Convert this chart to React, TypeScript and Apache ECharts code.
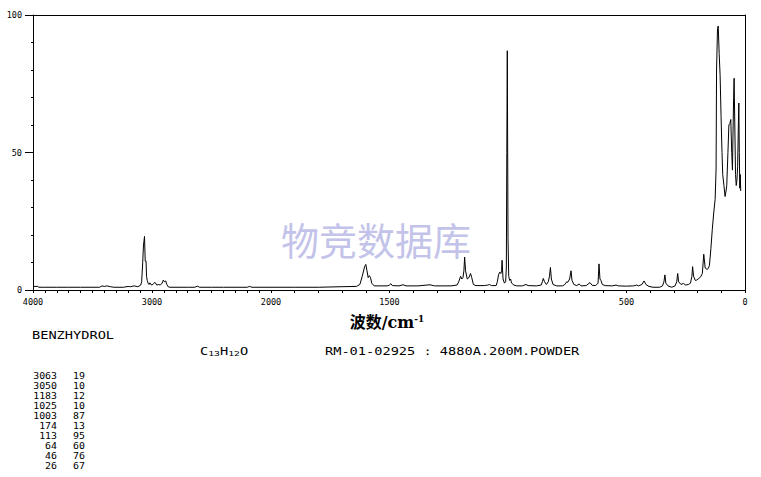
import React, { useEffect, useRef } from "react";
import * as echarts from "echarts";

// Raman spectrum of benzhydrol: wavenumber (cm-1) and relative intensity
const wavenumbers = [
  4000, 3960, 3950, 3900, 3800, 3700, 3600, 3440, 3420, 3400, 3380, 3350, 3320, 3240, 3200, 3180, 3150, 3120,
  3100, 3095, 3087, 3078, 3072, 3063, 3057, 3050, 3046, 3040, 3033, 3025, 3017, 3010, 3000, 2990, 2975, 2960,
  2944, 2930, 2915, 2905, 2895, 2885, 2875, 2865, 2850, 2700, 2640, 2620, 2600, 2500, 2400, 2200, 2180, 2160,
  2000, 1900, 1800, 1700, 1640, 1625, 1615, 1605, 1600, 1595, 1590, 1585, 1580, 1575, 1565, 1540, 1510, 1500,
  1494, 1488, 1460, 1443, 1430, 1380, 1329, 1310, 1240, 1215, 1208, 1200, 1195, 1190, 1186, 1183, 1179, 1172,
  1165, 1158, 1153, 1146, 1135, 1100, 1085, 1078, 1070, 1050, 1045, 1040, 1035, 1030, 1027, 1025, 1021, 1015,
  1010, 1007, 1005, 1003, 1000, 997, 993, 989, 985, 975, 963, 940, 924, 915, 880, 860, 855, 851, 846, 838, 830,
  825, 821, 817, 810, 795, 770, 760, 752, 748, 740, 734, 730, 722, 710, 700, 692, 670, 654, 645, 630, 620, 616,
  612, 608, 602, 590, 560, 544, 535, 500, 470, 457, 450, 435, 426, 418, 405, 388, 360, 348, 342, 338, 334, 325,
  309, 295, 288, 284, 280, 270, 260, 250, 239, 230, 224, 221, 217, 210, 204, 195, 187, 180, 174, 168, 160, 155,
  150, 144, 138, 132, 126, 122, 120, 116, 113, 109, 105, 101, 97, 94, 89, 84, 80, 77, 72, 68, 64, 60, 56, 53, 50,
  48, 46, 43, 40, 37, 34, 31, 28, 26, 24, 22, 20, 18,
];
const intensities = [
  1.3, 1.3, 1.0, 1.0, 1.0, 1.0, 1.0, 1.0, 1.5, 1.3, 1.5, 1.2, 1.0, 1.0, 1.3, 1.2, 1.5, 1.2,
  1.6, 1.8, 3, 10, 16, 19.5, 10.5, 10.5, 5, 3.5, 2.5, 2, 2.6, 2, 1.8, 2.2, 2.8, 1.8,
  2, 1.8, 2.5, 3.6, 3, 3.3, 2, 1.2, 1.0, 1.0, 1.0, 1.4, 1.0, 1.0, 1.0, 1.0, 1.3, 1.0,
  1.0, 1.0, 1.0, 1.2, 1.3, 2, 5, 8.5, 9.3, 7, 4.5, 5.2, 4.5, 2.5, 1.5, 1.5, 1.5, 1.8,
  2.3, 1.6, 1.5, 1.9, 1.5, 1.5, 1.9, 1.5, 1.5, 1.8, 3, 5, 4, 4.5, 7, 12, 7, 4,
  4.5, 6, 4.5, 2, 1.6, 1.6, 1.8, 2, 1.6, 1.6, 3, 5.5, 6.5, 6, 7, 10.8, 4, 2.5,
  3, 8, 50, 87, 19, 5, 3.5, 4, 2.5, 1.8, 1.5, 1.5, 2, 1.6, 1.5, 1.8, 3, 4.2, 3, 2, 3,
  5, 8.2, 4, 2, 1.5, 1.5, 2, 3, 2.8, 4, 7, 3.5, 2, 1.6, 2.2, 1.5, 1.6, 2.7, 1.7, 1.6, 2.5, 9.5,
  4, 3.5, 2, 1.6, 1.5, 1.8, 1.5, 1.4, 1.5, 1.8, 1.5, 2, 3.3, 2, 1.3, 1.0, 1.0, 1.5, 3, 5.5, 2.5, 1.5,
  1.0, 1.5, 3, 6, 3, 2, 2.4, 1.8, 2, 2.5, 5, 8.5, 5, 3.5, 3.6, 4.2, 4.8, 6, 13, 8, 7.5, 7.8,
  9, 15, 22, 28, 33, 44, 80, 95, 96, 86, 78, 63, 50, 42, 38, 34, 36, 38, 50, 60, 60.5, 62, 50, 43.6, 60,
  70, 77, 60, 42, 38, 40, 45, 60, 68, 50, 37, 42, 36,
];

const highTickLabels = [4000, 3000];
const lowTickLabels = [2000, 1500, 500, 0];
const compoundName = "BENZHYDROL";
const sampleInfo = "RM-01-02925 : 4880A.200M.POWDER";
const peakWavenumbers = ["3063", "3050", "1183", "1025", "1003", "174", "113", "64", "46", "26"];
const peakIntensities = ["19", "10", "12", "10", "87", "13", "95", "60", "76", "67"];
const watermark = "物竞数据库";

const MONO = '"DejaVu Sans Mono", "Liberation Mono", monospace';
const BLACK = "#000";

export default function App() {
  const ref = useRef<HTMLDivElement>(null);

  useEffect(() => {
    if (!ref.current) return;
    const chart = echarts.init(ref.current, null, { renderer: "svg" });

    const pairs = wavenumbers.map((w, i) => [w, intensities[i]]);
    const highData = pairs.filter((p) => p[0] >= 2000);
    const lowData = pairs.filter((p) => p[0] <= 2000);

    const line = { lineStyle: { color: BLACK, width: 1 } };
    const tickFont = { fontFamily: MONO, fontSize: 8.5, color: BLACK };

    const bottomX = (idx: number, min: number, max: number, labels: number[]) => ({
      gridIndex: idx,
      type: "value",
      min,
      max,
      interval: 100,
      inverse: true,
      position: "bottom",
      axisLine: { show: true, onZero: false, ...line },
      axisTick: { show: true, length: 3, ...line },
      axisLabel: {
        ...tickFont,
        margin: 7,
        formatter: (v: number) => (labels.includes(v) ? String(v) : ""),
      },
      splitLine: { show: false },
    });
    const topX = (idx: number, min: number, max: number) => ({
      gridIndex: idx,
      type: "value",
      min,
      max,
      inverse: true,
      position: "top",
      axisLine: { show: true, onZero: false, ...line },
      axisTick: { show: false },
      axisLabel: { show: false },
      splitLine: { show: false },
    });

    const textEl = (
      x: number,
      y: number,
      text: string,
      size: number,
      align: string,
      scaleX = 1.0
    ) => ({
      type: "text",
      x,
      y,
      scaleX,
      z: 10,
      style: {
        text,
        fontFamily: MONO,
        fontSize: size,
        fill: BLACK,
        align,
        textAlign: align,
        verticalAlign: "middle",
        textVerticalAlign: "middle",
      },
    });

    const tableEls: any[] = [];
    peakWavenumbers.forEach((w, i) => {
      tableEls.push(textEl(57, 375.5 + i * 10, w, 9, "right", 1.1));
      tableEls.push(textEl(85, 375.5 + i * 10, peakIntensities[i], 9, "right", 1.1));
    });

    chart.setOption({
      animation: false,
      backgroundColor: "#fff",
      grid: [
        { left: 33, top: 15, width: 238, height: 275 },
        { left: 271, top: 15, width: 474, height: 275 },
      ],
      xAxis: [
        bottomX(0, 2000, 4000, highTickLabels),
        bottomX(1, 0, 2000, lowTickLabels),
        topX(0, 2000, 4000),
        topX(1, 0, 2000),
      ],
      yAxis: [
        {
          gridIndex: 0,
          type: "value",
          min: 0,
          max: 100,
          interval: 50,
          axisLine: { show: true, ...line },
          axisTick: { show: true, length: 8, ...line },
          minorTick: { show: true, splitNumber: 5, length: 2, ...line },
          axisLabel: { ...tickFont, margin: 11 },
          splitLine: { show: false },
        },
        {
          gridIndex: 1,
          type: "value",
          min: 0,
          max: 100,
          position: "right",
          axisLine: { show: true, ...line },
          axisTick: { show: false },
          axisLabel: { show: false },
          splitLine: { show: false },
        },
      ],
      series: [
        {
          type: "line",
          xAxisIndex: 0,
          yAxisIndex: 0,
          data: highData,
          showSymbol: false,
          symbol: "none",
          lineStyle: { color: BLACK, width: 1 },
          z: 5,
        },
        {
          type: "line",
          xAxisIndex: 1,
          yAxisIndex: 1,
          data: lowData,
          showSymbol: false,
          symbol: "none",
          lineStyle: { color: BLACK, width: 1 },
          z: 5,
        },
      ],
      graphic: [
        {
          type: "text",
          x: 281,
          y: 238,
          z: 0,
          style: {
            text: watermark,
            fontFamily: '"Noto Sans CJK SC", sans-serif',
            fontSize: 38,
            fill: "#c3c3ea",
            verticalAlign: "middle",
            textVerticalAlign: "middle",
          },
        },
        {
          type: "text",
          x: 387,
          y: 322,
          z: 10,
          style: {
            text: "{a|波数/cm}{b|-1}",
            align: "center",
            textAlign: "center",
            verticalAlign: "middle",
            textVerticalAlign: "middle",
            rich: {
              a: {
                fontFamily: '"DejaVu Serif", "Noto Sans CJK SC", serif',
                fontSize: 16,
                fontWeight: "bold",
                fill: BLACK,
                color: BLACK,
              },
              b: {
                fontFamily: '"DejaVu Serif", serif',
                fontSize: 9,
                fontWeight: "bold",
                verticalAlign: "top",
                fill: BLACK,
                color: BLACK,
              },
            },
          },
        },
        textEl(32, 335.5, compoundName, 10.5, "left", 1.3),
        {
          type: "text",
          x: 200,
          y: 352,
          scaleX: 1.3,
          z: 10,
          style: {
            text: "{m|C}{s|13}{m|H}{s|12}{m|O}",
            verticalAlign: "middle",
            textVerticalAlign: "middle",
            rich: {
              m: { fontFamily: MONO, fontSize: 10.5, fill: BLACK, color: BLACK },
              s: { fontFamily: MONO, fontSize: 7.5, fill: BLACK, color: BLACK, verticalAlign: "bottom" },
            },
          },
        },
        textEl(325, 352, sampleInfo, 10.5, "left", 1.3),
        ...tableEls,
      ],
    });

    return () => chart.dispose();
  }, []);

  return (
    <div
      ref={ref}
      style={{ position: "absolute", left: 0, top: 0, width: 761, height: 477, background: "#fff" }}
    />
  );
}
